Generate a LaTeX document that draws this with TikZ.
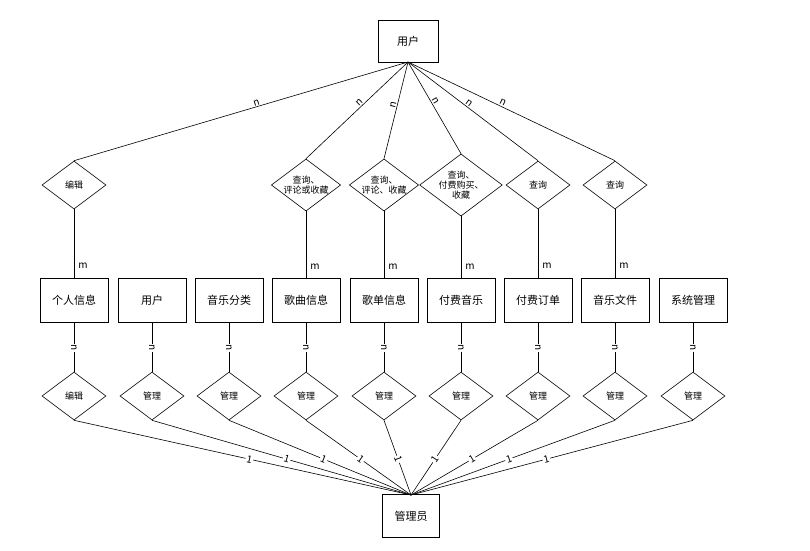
\documentclass[tikz,border=0pt]{standalone}
\usepackage{fontspec}
\setmainfont{Noto Sans CJK SC}
\usetikzlibrary{shapes.geometric}
\begin{document}
\begin{tikzpicture}[x=1pt,y=-1pt,
  ent/.style={draw,thick,minimum width=68pt,minimum height=44pt,inner sep=1pt,font=\fontsize{11}{12}\selectfont,fill=white},
  rel/.style={draw,semithick,diamond,aspect=1.33,minimum width=64pt,minimum height=48pt,inner sep=0pt,font=\fontsize{9}{10}\selectfont,align=center,fill=white},
  lab/.style={font=\fontsize{10}{10}\selectfont,inner sep=1pt},
  ln/.style={semithick}]
\useasboundingbox (0,0) rectangle (810,550);
\node[ent,minimum width=60pt,minimum height=42pt] (u) at (408,41) {用户};
\node[ent,minimum width=57pt,minimum height=43pt] (a) at (411,516) {管理员};
\coordinate (ub) at (408,62);
\coordinate (at) at (411,495);
\foreach \n/\x/\t in {e1/74/个人信息,e2/152/用户,e3/229/音乐分类,e4/306/歌曲信息,e5/384/歌单信息,e6/461/付费音乐,e7/538/付费订单,e8/615/音乐文件,e9/693/系统管理}{
  \node[ent] (\n) at (\x,300) {\t};
}
\foreach \n/\x/\t in {t1/74/编辑,t4/306/{查询、\\评论或收藏},t5/384/{查询、\\评论、收藏},t6/461/{查询、\\付费购买、\\收藏},t7/538/查询,t8/615/查询}{
  \node[rel] (\n) at (\x,185) {\t};
  \draw[ln] (ub) -- node[lab,sloped,pos=0.45,above] {n} (\n.north);
}
\foreach \i in {1,4,5,6,7,8}{
  \draw[ln] (t\i.south) -- node[lab,pos=0.83,right=3pt] {m} (e\i.north);
}
\foreach \n/\x/\t in {b1/74/编辑,b2/152/管理,b3/229/管理,b4/306/管理,b5/384/管理,b6/461/管理,b7/538/管理,b8/615/管理,b9/693/管理}{
  \node[rel] (\n) at (\x,396) {\t};
}
\foreach \i in {1,...,9}{
  \draw[ln] (e\i.south) -- node[lab,sloped,pos=0.52,fill=white] {n} (b\i.north);
  \draw[ln] (b\i.south) -- node[lab,sloped,pos=0.52,fill=white] {\itshape 1} (at);
}
\end{tikzpicture}
\end{document}
